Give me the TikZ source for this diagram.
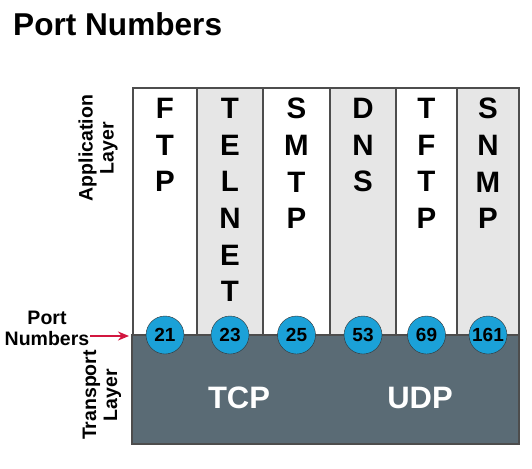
\documentclass[tikz,border=0pt]{standalone}
\usepackage{fontspec}
\setmainfont{Liberation Sans}
\usetikzlibrary{arrows.meta}
\definecolor{transp}{HTML}{5A6B75}
\definecolor{colgray}{HTML}{E6E6E6}
\definecolor{portblue}{HTML}{1BA1D8}
\definecolor{arrowred}{HTML}{D2163F}
\definecolor{edgegray}{HTML}{4D4D4D}
\begin{document}
\begin{tikzpicture}[x=1pt, y=-1pt,
	port/.style={circle, draw=black!80, fill=portblue, minimum size=38pt, inner sep=0pt, font=\fontsize{19}{19}\selectfont\bfseries},
	proto/.style={align=center, anchor=north, inner sep=0pt, font=\fontsize{29.5}{36.7}\selectfont\bfseries},
	sidetext/.style={align=center, inner sep=1pt, font=\fontsize{19.5}{21}\selectfont\bfseries}
]
\useasboundingbox (0,0) rectangle (532,468);
\node[anchor=base west, inner sep=0pt, font=\fontsize{31.6}{34}\selectfont\bfseries] (title) at (13,36) {Port Numbers};
% application layer columns
\foreach \xa/\xb/\c in {133/197/white, 197/263/colgray, 263/330/white, 330/396/colgray, 396/457/white, 457/519/colgray}
{
	\draw[edgegray, line width=1.2pt, fill=\c] (\xa,88) rectangle (\xb,335);
}
% transport layer
\draw[edgegray, line width=1.2pt, fill=transp] (132,335) rectangle (519,444);
\node[proto] (ftp) at (165,98) {F\\T\\P};
\node[proto] (telnet) at (230,98) {T\\E\\L\\N\\E\\T};
\node[proto] (smtp) at (296.5,98) {S\\M\\T\\P};
\node[proto] (dns) at (363,98) {D\\N\\S};
\node[proto] (tftp) at (426.5,98) {T\\F\\T\\P};
\node[proto] (snmp) at (488,98) {S\\N\\M\\P};
\foreach \x/\n in {165/21, 230/23, 296.5/25, 363/53, 426.5/69, 488/161}
{
	\node[port] (p\n) at (\x,335) {\n};
}
\node[text=white, font=\fontsize{31}{31}\selectfont\bfseries] (tcp) at (239,398) {TCP};
\node[text=white, font=\fontsize{31}{31}\selectfont\bfseries] (udp) at (420,398) {UDP};
% left side labels
\node[sidetext, rotate=90] (applayer) at (98,148) {Application\\Layer};
\node[sidetext, rotate=90] (translayer) at (102,395) {Transport\\Layer};
\node[sidetext] (portlbl) at (47,328) {Port\\Numbers};
\coordinate (edge) at (129,336);
\draw[arrowred, line width=2.2pt, -{Stealth[length=11pt, width=9pt]}] (portlbl.east |- edge) -- (edge);
\end{tikzpicture}
\end{document}
